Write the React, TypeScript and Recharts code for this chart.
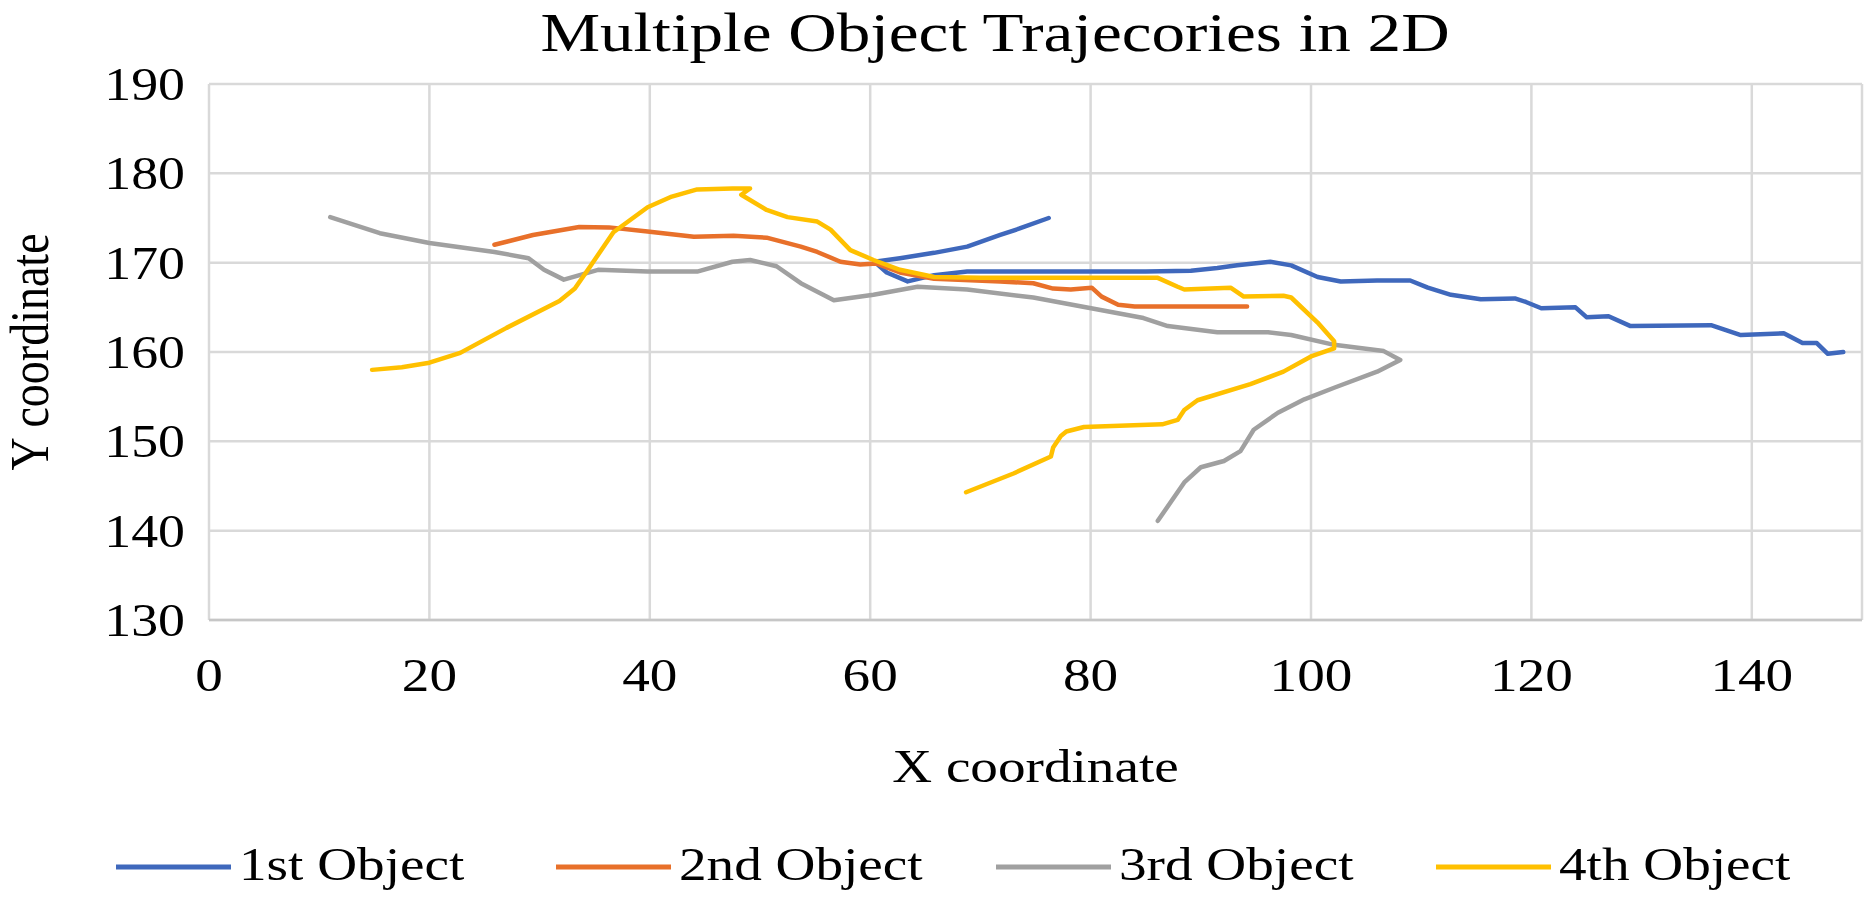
import { LineChart, Line, XAxis, YAxis, CartesianGrid, Legend, Label } from "recharts";

const seriesNames = ["1st Object", "2nd Object", "3rd Object", "4th Object"];
const seriesColors = ["#3F68BC", "#E8702A", "#A0A0A0", "#FFC000"];
const xTicks = [0, 20, 40, 60, 80, 100, 120, 140];
const yTicks = [130, 140, 150, 160, 170, 180, 190];

// trajectories, [x, y] in drawing order
const object1: [number, number][] = [
  [76.2, 175], [73.5, 173.8], [71.8, 173.1], [68.8, 171.8], [65.8, 171.1], [62.7, 170.5],
  [60.4, 170.1], [61.5, 168.9], [63.4, 167.9], [65.8, 168.6], [68.8, 169], [75, 169],
  [85, 169], [89.1, 169.1], [91.5, 169.4], [93.3, 169.7], [96.3, 170.1], [98.2, 169.7],
  [100.6, 168.4], [102.7, 167.9], [106, 168], [109, 168], [110.6, 167.2], [112.7, 166.4],
  [115.4, 165.9], [118.5, 166], [119.5, 165.6], [120.9, 164.9], [124, 165], [125, 163.9],
  [127, 164], [129, 162.9], [136.3, 163], [139, 161.9], [142.9, 162.1], [144.6, 161],
  [145.9, 161], [146.9, 159.8], [148.3, 160],
];

const object2: [number, number][] = [
  [25.9, 172], [29.4, 173.1], [33.6, 174], [36.3, 173.95], [39.8, 173.5], [44, 172.9],
  [47.6, 173], [50.6, 172.8], [53.7, 171.8], [55.2, 171.2], [57.3, 170.1], [59.1, 169.8],
  [60.6, 169.9], [62.7, 168.9], [65.8, 168.2], [71.8, 167.9], [74.8, 167.7], [76.6, 167.1],
  [78.2, 167], [80.1, 167.2], [81, 166.2], [82.5, 165.3], [84, 165.1], [90, 165.1], [94.2, 165.1],
];

const object3: [number, number][] = [
  [11, 175.1], [15.5, 173.3], [20, 172.2], [25.9, 171.2], [29, 170.5], [30.4, 169.2],
  [32.2, 168.1], [35.3, 169.2], [39.8, 169], [44.3, 169], [47.5, 170.1], [49.1, 170.3],
  [51.5, 169.6], [53.7, 167.7], [56.7, 165.8], [60.3, 166.4], [64.3, 167.3], [68.8, 167],
  [74.8, 166.1], [80.9, 164.7], [84.8, 163.8], [87, 162.9], [91.5, 162.2], [96.1, 162.2],
  [98.2, 161.9], [102.1, 160.8], [106.6, 160.1], [108.1, 159.1], [106, 157.8], [102.1, 156],
  [99.4, 154.7], [97, 153.2], [94.8, 151.3], [93.6, 148.9], [92.1, 147.8], [90, 147.1],
  [88.5, 145.4], [86.1, 141.1],
];

const object4: [number, number][] = [
  [14.8, 158], [17.5, 158.3], [20, 158.8], [22.8, 159.9], [27, 162.7], [31.8, 165.7],
  [33.2, 167.1], [34.6, 169.6], [36.7, 173.4], [39.8, 176.2], [42, 177.4], [44.3, 178.2],
  [47.5, 178.3], [49.1, 178.3], [48.3, 177.6], [50.6, 175.9], [52.5, 175.1], [55.2, 174.6],
  [56.4, 173.7], [58.2, 171.4], [60.3, 170.3], [62.7, 169.2], [65.8, 168.4], [70, 168.3],
  [86.1, 168.3], [87.9, 167.3], [88.5, 167], [92.7, 167.2], [93.9, 166.2], [97.5, 166.3],
  [98.2, 166.1], [100.6, 163.3], [102.1, 161.2], [102.1, 160.4], [100, 159.5], [97.5, 157.8],
  [94.5, 156.4], [89.7, 154.6], [88.5, 153.5], [87.9, 152.4], [86.5, 151.9], [79.4, 151.6],
  [77.8, 151.1], [77.3, 150.6], [76.6, 149.3], [76.4, 148.3], [73, 146.4], [68.7, 144.3],
];

const trajectories = [object1, object2, object3, object4];

const FONT = '"Liberation Serif", "Times New Roman", serif';
const W = 1873;
const H = 897;
const LEGEND_H = 167;

function XTick({ x, y, payload }: any) {
  return (
    <text
      transform={`translate(${x},${y + 71}) scale(1.2,1)`}
      textAnchor="middle"
      fontFamily={FONT}
      fontSize={46}
      fill="#000"
    >
      {payload.value}
    </text>
  );
}

function YTick({ x, y, payload }: any) {
  return (
    <text
      transform={`translate(${x - 24},${y + 16}) scale(1.17,1)`}
      textAnchor="end"
      fontFamily={FONT}
      fontSize={46}
      fill="#000"
    >
      {payload.value}
    </text>
  );
}

function renderLegend() {
  return (
    <svg width={W} height={LEGEND_H} style={{ display: "block" }}>
      {seriesNames.map((name, i) => {
        const x0 = 116 + i * 440;
        return (
          <g key={name}>
            <line x1={x0} x2={x0 + 115} y1={137} y2={137} stroke={seriesColors[i]} strokeWidth={5} />
            <text
              transform={`translate(${x0 + 123},150) scale(1.2,1)`}
              fontFamily={FONT}
              fontSize={46}
              fill="#000"
            >
              {name}
            </text>
          </g>
        );
      })}
    </svg>
  );
}

export default function App() {
  return (
    <div style={{ position: "absolute", left: 0, top: 0, width: W, height: H, background: "#fff" }}>
      <LineChart width={W} height={H} margin={{ top: 84, right: 11, left: 0, bottom: 0 }}>
        <CartesianGrid stroke="#d9d9d9" strokeWidth={2.5} />
        <XAxis
          type="number"
          dataKey="x"
          domain={[0, 150]}
          ticks={xTicks}
          height={110}
          tickLine={false}
          tickSize={0}
          tickMargin={0}
          axisLine={{ stroke: "#c6c6c6", strokeWidth: 2.5 }}
          tick={<XTick />}
          allowDataOverflow
        >
          <Label
            content={({ viewBox }: any) => (
              <text
                transform={`translate(${viewBox.x + viewBox.width / 2},${viewBox.y + 162}) scale(1.2,1)`}
                textAnchor="middle"
                fontFamily={FONT}
                fontSize={46}
                fill="#000"
              >
                X coordinate
              </text>
            )}
          />
        </XAxis>
        <YAxis
          type="number"
          dataKey="y"
          domain={[130, 190]}
          ticks={yTicks}
          width={209}
          tickLine={false}
          tickSize={0}
          tickMargin={0}
          axisLine={false}
          tick={<YTick />}
          allowDataOverflow
        >
          <Label
            content={({ viewBox }: any) => (
              <text
                transform={`translate(48,${viewBox.y + viewBox.height / 2}) scale(1.2,1) rotate(-90)`}
                textAnchor="middle"
                fontFamily={FONT}
                fontSize={46}
                fill="#000"
              >
                Y coordinate
              </text>
            )}
          />
        </YAxis>
        <Legend verticalAlign="bottom" height={LEGEND_H} content={renderLegend} wrapperStyle={{ height: LEGEND_H }} />
        {trajectories.map((pts, i) => (
          <Line
            key={seriesNames[i]}
            name={seriesNames[i]}
            data={pts.map(([x, y]) => ({ x, y }))}
            dataKey="y"
            type="linear"
            stroke={seriesColors[i]}
            strokeWidth={4.5}
            strokeLinejoin="round"
            strokeLinecap="round"
            dot={false}
            activeDot={false}
            isAnimationActive={false}
          />
        ))}
      </LineChart>
      <svg width={W} height={90} style={{ position: "absolute", left: 0, top: 0, pointerEvents: "none" }}>
        <text
          transform="translate(995,51) scale(1.22,1)"
          textAnchor="middle"
          fontFamily={FONT}
          fontSize={55}
          fill="#000"
        >
          Multiple Object Trajecories in 2D
        </text>
      </svg>
    </div>
  );
}
